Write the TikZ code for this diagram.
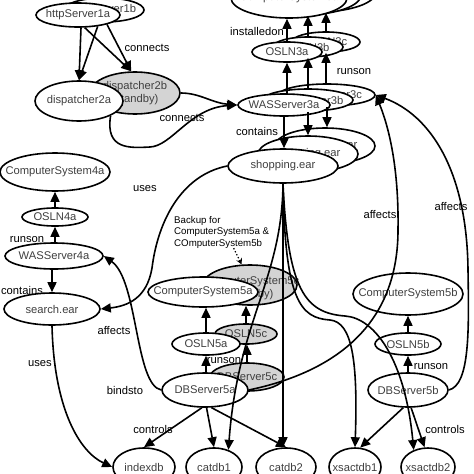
\documentclass[tikz,border=0pt]{standalone}
\usepackage{fontspec}
\setmainfont{Liberation Sans}
\usetikzlibrary{shapes.geometric,arrows.meta}
\tikzset{
	ent/.style={ellipse, draw, line width=1.6pt, fill=white, inner sep=0pt, text=black!75},
	standby/.style={ent, fill=black!17},
	arr/.style={line width=1.6pt, -{Triangle[length=10pt,width=9pt]}},
	lbl/.style={inner sep=0pt}
}
\newcommand{\nm}[1]{\makebox[0pt]{#1}}
\newcommand{\nmm}[2]{\makebox[0pt]{\begin{tabular}{@{}c@{}}#1\\#2\end{tabular}}}
\begin{document}
\begin{tikzpicture}[x=1pt, y=-1pt, font=\fontsize{11.2}{13}\selectfont]
				\useasboundingbox (0,0) rectangle (474,474);
				% top stack
				\node[ent, minimum width=116pt, minimum height=40pt] (CS3c) at (318,-8) {\nm{ComputerSystem3c}};
				\node[ent, minimum width=116pt, minimum height=40pt] (CS3b) at (303,-5) {\nm{ComputerSystem3b}};
				\node[ent, minimum width=116pt, minimum height=40pt] (CS3a) at (289,-2) {\nm{ComputerSystem3a}};
				\node[ent, minimum width=80pt, minimum height=24pt] (HTTP1b) at (104,10) {\nm{httpServer1b}};
				\node[ent, minimum width=84pt, minimum height=24pt] (HTTP1a) at (78,15) {\nm{httpServer1a}};
				\node[standby, minimum width=90pt, minimum height=42pt] (DISP2b) at (135,93) {\nmm{dispatcher2b}{(standby)}};
				\node[ent, minimum width=88pt, minimum height=40pt] (DISP2a) at (79,101) {\nm{dispatcher2a}};
				\node[ent, minimum width=68pt, minimum height=20pt] (OSLN3c) at (326,42) {\nm{OSLN3c}};
				\node[ent, minimum width=70pt, minimum height=20pt] (OSLN3b) at (308,47) {\nm{OSLN3b}};
				\node[ent, minimum width=70pt, minimum height=20pt] (OSLN3a) at (287,52) {\nm{OSLN3a}};
				\node[ent, minimum width=96pt, minimum height=22pt] (WAS3c) at (327,95) {\nm{WASServer3c}};
				\node[ent, minimum width=90pt, minimum height=22pt] (WAS3b) at (308,100) {\nm{WASServer3b}};
				\node[ent, minimum width=92pt, minimum height=22pt] (WAS3a) at (284,105) {\nm{WASServer3a}};
				\node[ent, minimum width=100pt, minimum height=36pt] (EAR3) at (325,146) {\nm{shopping.ear}};
				\node[ent, minimum width=100pt, minimum height=36pt] (EAR2) at (308,154) {\nm{shopping.ear}};
				\node[ent, minimum width=110pt, minimum height=34pt] (EAR1) at (283,166) {\nm{shopping.ear}};
				% left column
				\node[ent, minimum width=110pt, minimum height=38pt] (CS4a) at (55,172) {\nm{ComputerSystem4a}};
				\node[ent, minimum width=66pt, minimum height=18pt] (OSLN4a) at (55,217) {\nm{OSLN4a}};
				\node[ent, minimum width=98pt, minimum height=26pt] (WAS4a) at (54,256) {\nm{WASServer4a}};
				\node[ent, minimum width=96pt, minimum height=32pt] (SEARCH) at (52,309) {\nm{search.ear}};
				% database group
				\node[standby, minimum width=94pt, minimum height=40pt] (CS5c) at (250,285) {\raisebox{-6pt}[0pt][0pt]{\nmm{ComputerSystem5c}{(standby)}}};
				\node[ent, minimum width=110pt, minimum height=30pt] (CS5a) at (203,292) {\nm{ComputerSystem5a}};
				\node[standby, minimum width=62pt, minimum height=20pt] (OSLN5c) at (246,334) {\nm{OSLN5c}};
				\node[ent, minimum width=68pt, minimum height=22pt] (OSLN5a) at (206,344) {\nm{OSLN5a}};
				\node[standby, minimum width=74pt, minimum height=28pt] (DB5c) at (247,377) {\nm{DBServer5c}};
				\node[ent, minimum width=86pt, minimum height=34pt] (DB5a) at (205,390) {\nm{DBServer5a}};
				\node[ent, minimum width=110pt, minimum height=42pt] (CS5b) at (408,294) {\nm{ComputerSystem5b}};
				\node[ent, minimum width=66pt, minimum height=22pt] (OSLN5b) at (408,344) {\nm{OSLN5b}};
				\node[ent, minimum width=80pt, minimum height=34pt] (DB5b) at (408,390) {\nm{DBServer5b}};
				% tables
				\node[ent, minimum width=62pt, minimum height=38pt] (INDEX) at (144,467) {\nm{indexdb}};
				\node[ent, minimum width=56pt, minimum height=38pt] (CAT1) at (214,467) {\nm{catdb1}};
				\node[ent, minimum width=60pt, minimum height=38pt] (CAT2) at (286,467) {\nm{catdb2}};
				\node[ent, minimum width=52pt, minimum height=38pt] (XS1) at (355,467) {\nm{xsactdb1}};
				\node[ent, minimum width=54pt, minimum height=38pt] (XS2) at (428,467) {\nm{xsactdb2}};
				% connects
				\draw[arr] ([xshift=3]HTTP1a.south) -- (DISP2a.north);
				\draw[arr] (HTTP1a.-30) -- (DISP2a.north);
				\draw[arr] (HTTP1a.-62) -- (DISP2b.100);
				\draw[arr] (HTTP1a.-18) -- (DISP2b.100);
				\draw[arr] (DISP2b.east) .. controls (200,93) and (212,103) .. (WAS3a.west);
				\draw[arr] (DISP2a.-25) .. controls (105,150) and (130,148) .. (150,147) .. controls (172,146) and (190,108) .. (WAS3a.west);
				% installedon / runson / contains
				\draw[arr] (OSLN3a.north) -- (OSLN3a.north |- CS3a.south);
				\draw[arr] (OSLN3b.north) -- (OSLN3b.north |- CS3b.south);
				\draw[arr] (OSLN3c.north) -- (OSLN3c.north |- CS3c.south);
				\draw[arr] (WAS3a.north -| OSLN3a.south) -- (OSLN3a.south);
				\draw[arr] (WAS3b.north -| OSLN3b.south) -- (OSLN3b.south);
				\draw[arr] (WAS3c.north -| OSLN3c.south) -- (OSLN3c.south);
				\draw[arr] (WAS3a.south) -- (WAS3a.south |- EAR1.north);
				\draw[arr] (WAS3b.south) -- (WAS3b.south |- EAR2.north);
				\draw[arr] (WAS3c.south) -- (WAS3c.south |- EAR3.north);
				\draw[arr] (OSLN4a.north) -- (CS4a.south);
				\draw[arr] (WAS4a.north -| OSLN4a.south) -- (OSLN4a.south);
				\draw[arr] (WAS4a.south -| SEARCH.north) -- (SEARCH.north);
				\draw[arr] (OSLN5a.north) -- (OSLN5a.north |- CS5a.south);
				\draw[arr] (OSLN5c.north) -- (OSLN5c.north |- CS5c.south);
				\draw[arr] (DB5a.north -| OSLN5a.south) -- (OSLN5a.south);
				\draw[arr] (DB5c.north) -- (DB5c.north |- OSLN5c.south);
				\draw[arr] (OSLN5b.north) -- (CS5b.south);
				\draw[arr] (DB5b.north) -- (OSLN5b.south);
				% uses
				\draw[arr] (EAR1.west) .. controls (182,175) and (158,220) .. (152,268) .. controls (147,298) and (128,306) .. (SEARCH.east);
				\draw[arr] (SEARCH.south) .. controls (54,410) and (80,452) .. (INDEX.west);
				\draw[arr] (EAR1.south) .. controls (282,280) and (238,320) .. (CAT1.50);
				\draw[arr] (EAR1.south) -- (EAR1.south |- CAT2.north);
				\draw[arr] (EAR1.south) .. controls (285,300) and (300,318) .. (330,320) .. controls (352,322) and (358,360) .. (XS1.north);
				\draw[arr] (EAR1.south) .. controls (288,290) and (305,313) .. (345,316) .. controls (375,318) and (405,360) .. (XS2.130);
				% controls
				\draw[arr] (DB5a.-100) -- (INDEX.north);
				\draw[arr] (DB5a.-85) -- (CAT1.north);
				\draw[arr] (DB5a.-70) -- (CAT2.north);
				\draw[arr] (DB5b.-105) -- (XS1.75);
				\draw[arr] (DB5b.-80) -- (XS2.100);
				% affects
				\draw[arr] (DB5a.west) .. controls (135,385) and (138,280) .. (WAS4a.east);
				\draw[arr] (DB5a.east) .. controls (335,372) and (398,325) .. (398,230) .. controls (399,165) and (388,125) .. (WAS3c.east);
				\draw[arr] (DB5b.east) .. controls (470,385) and (469,330) .. (468,270) .. controls (467,170) and (430,115) .. (WAS3c.east);
				% backup note
				\node[lbl, align=left, anchor=west, font=\fontsize{9.7}{11.5}\selectfont] (BACKUP) at (174,232) {Backup for\\ComputerSystem5a \&\\COmputerSystem5b};
				\draw[dotted, line width=1.3pt, -{Stealth[length=6pt,width=6pt]}] ([xshift=12]BACKUP.south) -- (CS5c.112);
				% edge labels
				\node[lbl] (Lconn1) at (147,48) {connects};
				\node[lbl] (Lconn2) at (182,118) {connects};
				\node[lbl] (Linst) at (257,31) {installedon};
				\node[lbl] (Lrun3) at (354,72) {runson};
				\node[lbl] (Lcont3) at (257,131) {contains};
				\node[lbl] (Luses1) at (145,189) {uses};
				\node[lbl] (Lrun4) at (27,240) {runson};
				\node[lbl] (Lcont4) at (22,290) {contains};
				\node[lbl] (Laff1) at (114,330) {affects};
				\node[lbl] (Lbind) at (125,390) {bindsto};
				\node[lbl] (Luses2) at (40,364) {uses};
				\node[lbl] (Lctrl1) at (153,429) {controls};
				\node[lbl] (Lrun5a) at (224,361) {runson};
				\node[lbl] (Laff2) at (380,214) {affects};
				\node[lbl] (Laff3) at (451,206) {affects};
				\node[lbl] (Lrun5b) at (431,367) {runson};
				\node[lbl] (Lctrl2) at (445,429) {controls};
\end{tikzpicture}
\end{document}
